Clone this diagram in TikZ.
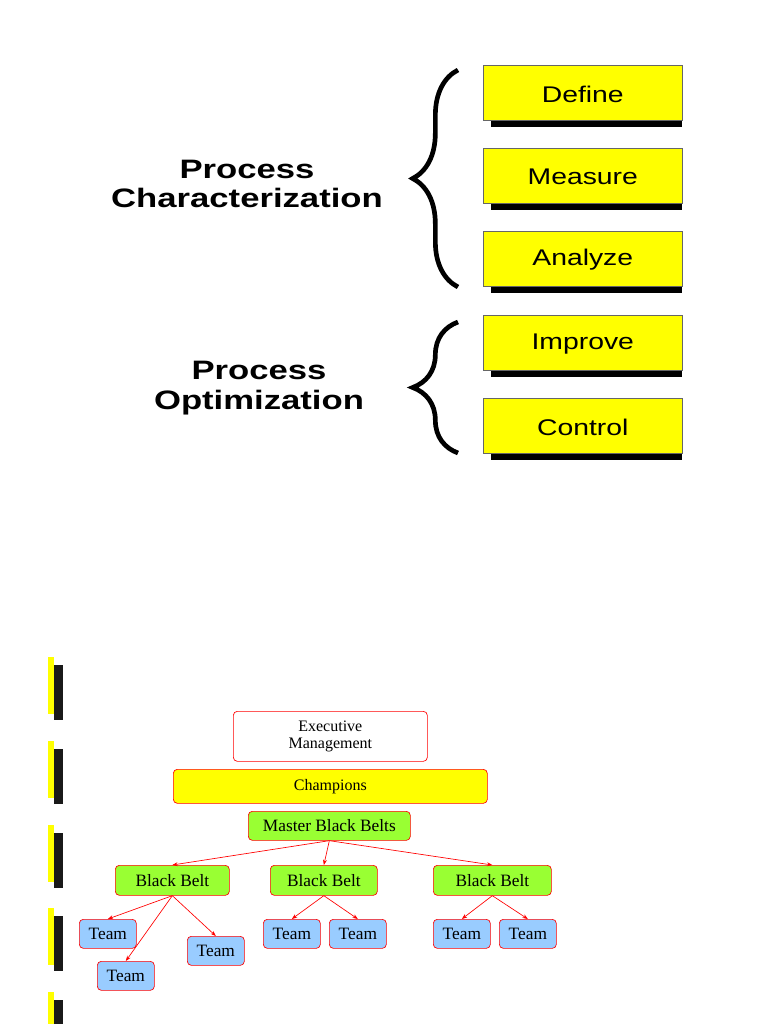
\documentclass[tikz,border=0pt]{standalone}
\usepackage{fontspec}
\setmainfont{Liberation Serif}
\newfontfamily\hsans{Liberation Sans}
\usetikzlibrary{decorations.pathreplacing,arrows.meta}
\definecolor{ybox}{RGB}{255,255,0}
\definecolor{gbox}{RGB}{153,255,51}
\definecolor{bbox}{RGB}{153,204,255}
\begin{document}
\begin{tikzpicture}[x=0.75pt,y=-0.75pt,
  phase/.style={draw=black!60,line width=0.4pt,fill=ybox,minimum width=149.25pt,minimum height=41.25pt,anchor=north west},
  ptext/.style={font=\hsans\fontsize{17}{17}\selectfont,xscale=1.25},
  head/.style={font=\hsans\bfseries\fontsize{20}{22}\selectfont,align=center,xscale=1.3},
  org/.style={draw=red,rounded corners=3pt,line width=0.5pt,font=\fontsize{12}{13}\selectfont,inner sep=0pt,anchor=north west},
  arr/.style={red,line width=0.5pt,-{Stealth[length=4pt,width=3pt]}},
  brc/.style={decorate,decoration={brace,amplitude=34pt},line width=3.5pt}]
\useasboundingbox (0,0) rectangle (768,1024);
% phases
\foreach \n/\t/\y in {d/Define/65,m/Measure/148,a/Analyze/231,i/Improve/315,c/Control/398}{
  \fill (491,\y+55) rectangle (682,\y+62);
  \node[phase] (\n) at (483,\y) {};
  \node[ptext] (\n t) at ([yshift=-1pt]\n.center) {\t};
}
\node[head] (pc) at (247,184) {Process\\Characterization};
\node[head] (po) at (259,388) {Process\\Optimization};
\coordinate (b1t) at (458,70); \coordinate (b1b) at (458,287);
\coordinate (b2t) at (458,322); \coordinate (b2b) at (458,453);
\draw[brc] (b1b) -- (b1t);
\draw[brc] (b2b) -- (b2t);
% left bars
\foreach \y in {657,741,825,908,992}{
  \fill[black!90] (54,\y+8) rectangle (63,\y+63);
  \fill[ybox] (48,\y) rectangle (54,\y+57);
}
% org chart
\node[org,fill=white,minimum width=145.5pt,minimum height=37.5pt,align=center] (ex) at (233,711) {Executive\\Management};
\node[org,fill=ybox,minimum width=235.5pt,minimum height=25.5pt] (ch) at (173,769) {Champions};
\node[org,fill=gbox,minimum width=121.5pt,minimum height=21.75pt,font=\fontsize{13}{13}\selectfont] (mbb) at (248,811) {Master Black Belts};
\node[org,fill=gbox,minimum width=85.5pt,minimum height=22.5pt,font=\fontsize{13}{13}\selectfont] (bb1) at (115,865) {Black Belt};
\node[org,fill=gbox,minimum width=80.25pt,minimum height=22.5pt,font=\fontsize{13}{13}\selectfont] (bb2) at (270,865) {Black Belt};
\node[org,fill=gbox,minimum width=88.5pt,minimum height=22.5pt,font=\fontsize{13}{13}\selectfont] (bb3) at (433,865) {Black Belt};
\foreach \n/\x/\y in {t1/79/919,t2/97/961,t3/187/936,t4/263/919,t5/329/919,t6/433/919,t7/499/919}{
  \node[org,fill=bbox,minimum width=42.75pt,minimum height=21.75pt,font=\fontsize{13}{13}\selectfont] (\n) at (\x,\y) {Team};
}
\draw[arr] (mbb.south) -- (bb1.north);
\draw[arr] (mbb.south) -- (bb2.north);
\draw[arr] (mbb.south) -- (bb3.north);
\draw[arr] (bb1.south) -- (t1.north);
\draw[arr] (bb1.south) -- (t2.north);
\draw[arr] (bb1.south) -- (t3.north);
\draw[arr] (bb2.south) -- (t4.north);
\draw[arr] (bb2.south) -- (t5.north);
\draw[arr] (bb3.south) -- (t6.north);
\draw[arr] (bb3.south) -- (t7.north);
\end{tikzpicture}
\end{document}
